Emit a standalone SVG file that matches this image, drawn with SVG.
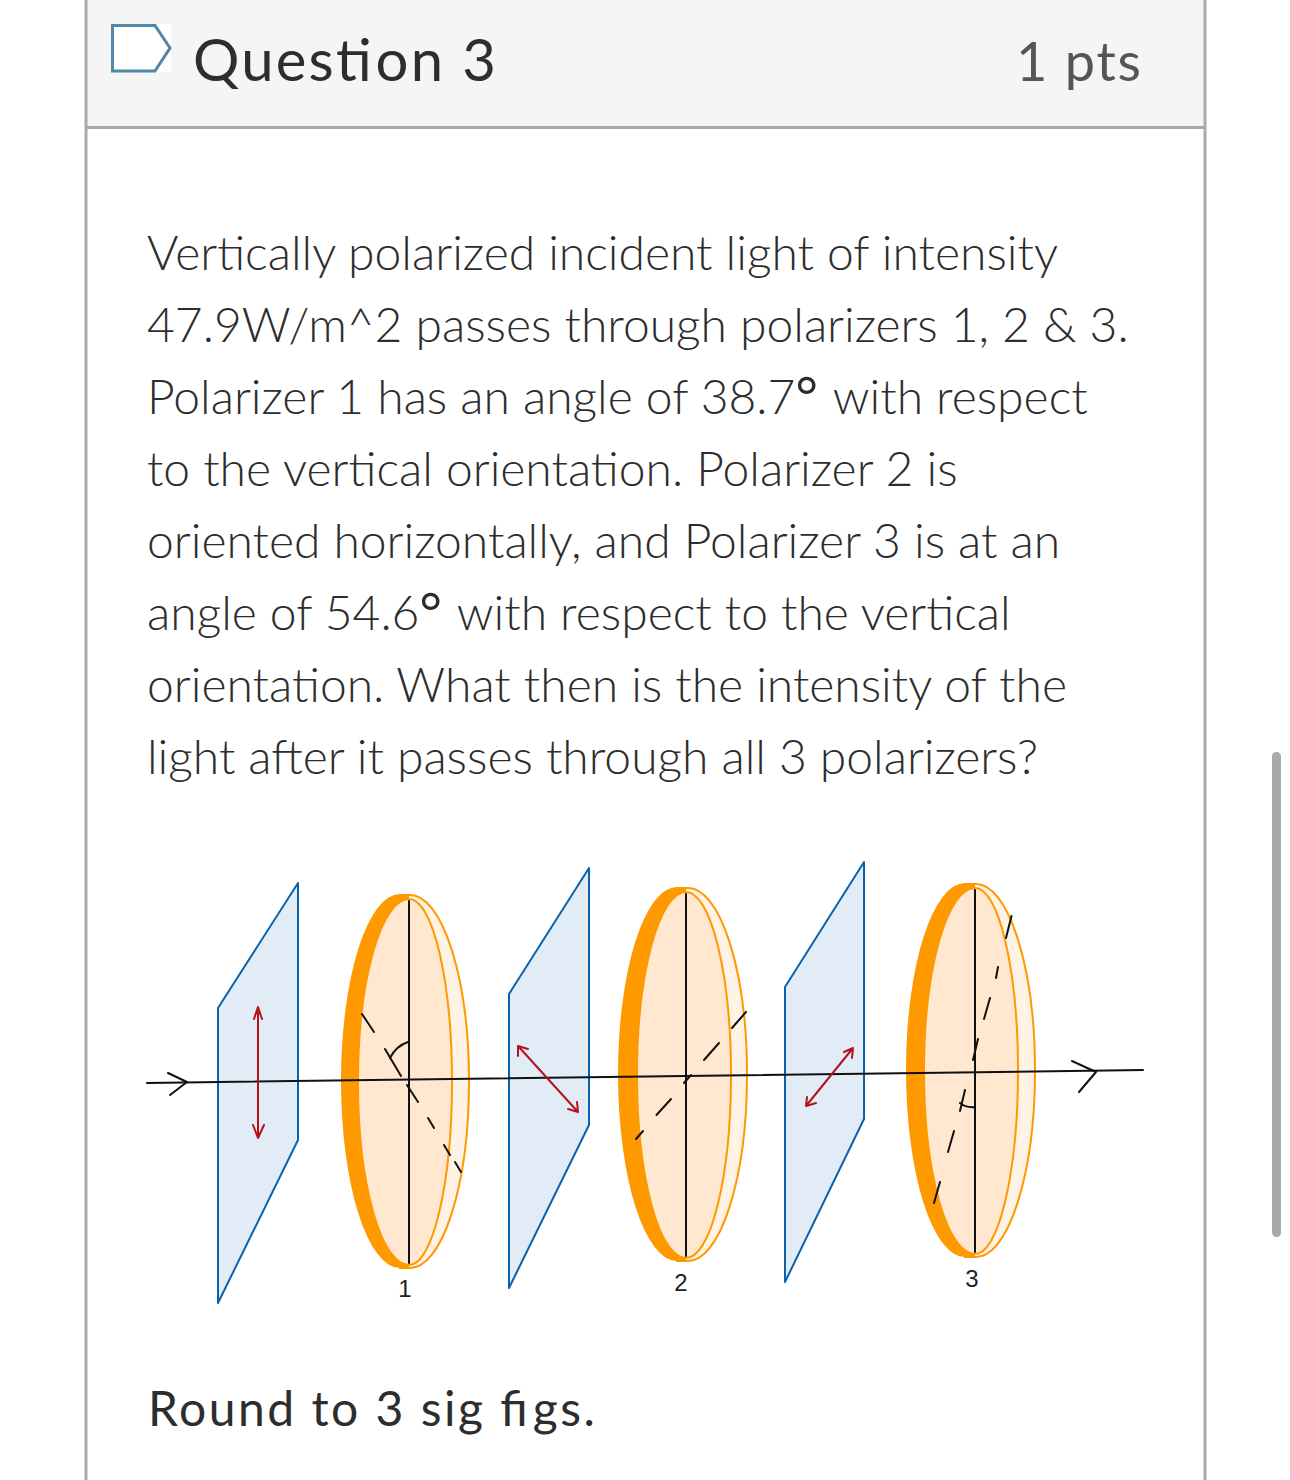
<svg xmlns="http://www.w3.org/2000/svg" width="1290" height="1480" viewBox="0 0 1290 1480">
<style>
.b{font-family:Lato,"Open Sans","Liberation Sans",sans-serif;font-weight:300;font-size:48px;fill:#2d2d2d}
.h{font-family:Lato,"Open Sans","Liberation Sans",sans-serif;font-weight:400;font-size:58px;fill:#2d2d2d;letter-spacing:2.200px}
.s{font-family:Lato,"Open Sans","Liberation Sans",sans-serif;font-weight:400;font-size:48px;fill:#2d2d2d;letter-spacing:2.500px}
.lig{letter-spacing:0}
.d{font-size:54px;font-weight:400}
.n{font-family:"Liberation Sans",Arial,sans-serif;font-size:24px;fill:#222;text-anchor:middle}
.panel{fill:#e2ecf7;stroke:#0a62ad;stroke-width:2;stroke-linejoin:round}
.pale{fill:#fff3e6;stroke:#ff9900;stroke-width:2}
.rim{fill:#ff9900}
.face{fill:#ffe7d0;stroke:#ff9900;stroke-width:2}
.k{stroke:#111;stroke-width:2;fill:none;stroke-linecap:round;stroke-linejoin:round}
.r{stroke:#b5121b;stroke-width:2;fill:none;stroke-linecap:round;stroke-linejoin:round}
</style>
<rect width="1290" height="1480" fill="#fff"/>
<g id="card">
<rect x="86" y="-4" width="1119" height="132" fill="#f5f5f5"/>
<path d="M86 0V1480M1205 0V1480M86 127.500H1205" stroke="#aaa" stroke-width="3" fill="none"/>
<rect x="111" y="24" width="60" height="48" fill="#fff"/>
<path d="M112.500 25.500H155L170 48L155 71H112.500Z" fill="#fff" stroke="#4f88ab" stroke-width="3"/>
<text class="h" x="193" y="81">Ques<tspan class="lig">ti</tspan><tspan dx="4">on 3</tspan></text>
<text class="h" x="1016" y="81" style="fill:#555;font-size:54px;letter-spacing:1.800px">1 pts</text>
<rect x="1272" y="752" width="9" height="485" rx="4.500" fill="#a9a9a9"/>
</g>
<g id="question-text">
<text class="b" x="147" y="270">Vertically polarized incident light of intensity</text>
<text class="b" x="147" y="342">47.9W/m^2 passes through polarizers 1, 2 &amp; 3.</text>
<text class="b" x="147" y="414">Polarizer 1 has an angle of 38.7<tspan class="d" dy="2">°</tspan><tspan dx="3" dy="-2"> with respect</tspan></text>
<text class="b" x="147" y="486">to the vertical orientation. Polarizer 2 is</text>
<text class="b" x="147" y="558">oriented horizontally, and Polarizer 3 is at an</text>
<text class="b" x="147" y="630">angle of 54.6<tspan class="d" dy="2">°</tspan><tspan dx="3" dy="-2"> with respect to the vertical</tspan></text>
<text class="b" x="147" y="702">orientation. What then is the intensity of the</text>
<text class="b" x="147" y="774">light after it passes through all 3 polarizers?</text>
<text class="s" x="148" y="1426">Round to 3 sig <tspan class="lig">fi</tspan><tspan dx="5">gs.</tspan></text>
</g>
<g id="panel-a"><path class="panel" d="M218 1008L298 883V1140L218 1303Z"/></g>
<g id="panel-b"><path class="panel" d="M509 994L589 868V1125L509 1288Z"/></g>
<g id="panel-c"><path class="panel" d="M785 987L864 862V1119L785 1282Z"/></g>
<g id="polarizer-1">
<path class="pale" d="M400 895H410A59 186.500 0 0 1 410 1268H400Z"/>
<path class="rim" d="M400 894A59 187 0 0 0 400 1268H409V894Z"/>
<path class="face" d="M409 899A51 183 0 0 0 409 1265A43 183 0 0 0 409 899Z"/>
<path class="k" d="M409 901V1263"/>
<text class="n" x="405" y="1297">1</text>
</g>
<g id="polarizer-2">
<path class="pale" d="M677 888H688A59 186.500 0 0 1 688 1261H677Z"/>
<path class="rim" d="M677 887A59 187 0 0 0 677 1261H686V887Z"/>
<path class="face" d="M686 892A49 183 0 0 0 686 1258A45 183 0 0 0 686 892Z"/>
<path class="k" d="M686 894V1256"/>
<text class="n" x="681" y="1291">2</text>
</g>
<g id="polarizer-3">
<path class="pale" d="M965 884H976A59 186.500 0 0 1 976 1257H965Z"/>
<path class="rim" d="M965 883A59 187 0 0 0 965 1257H975V883Z"/>
<path class="face" d="M975 888A51 183 0 0 0 975 1254A43 183 0 0 0 975 888Z"/>
<path class="k" d="M975 890V1252"/>
<text class="n" x="972" y="1287">3</text>
</g>
<g id="connectors">
<path class="k" d="M147 1083L1143 1070"/>
<path class="k" d="M168 1073L187 1082L170 1095M1072 1061L1096 1072L1079 1092"/>
<path class="r" d="M258 1007V1138M254 1019L258 1007L262 1019M253 1125L258 1138L264 1125"/>
<path class="r" d="M518 1046L578 1112M518 1056L518 1046L528 1049M568 1109L578 1112L577 1102"/>
<path class="r" d="M853 1048L806 1106M844 1052L853 1048L852 1058M816 1103L806 1106L807 1097"/>
<path class="k" d="M362 1014L374 1032M385 1049L401 1076M407 1085L418 1102M428 1118L434 1128M444 1145L450 1155M455 1162L461 1172M408 1042Q396 1046 390 1058"/>
<path class="k" d="M636 1139L643 1131M656.500 1115L671 1099M684 1083L691 1075M704 1060L719 1043M732 1028L746 1012"/>
<path class="k" d="M1011.500 916L1006 938M998 967L996 978M990 998L984 1019M978 1039L973 1060M965 1090L960 1111M954 1131L948 1152M940 1182L934 1203M960 1103Q966 1108 975 1107"/>
</g>
</svg>
